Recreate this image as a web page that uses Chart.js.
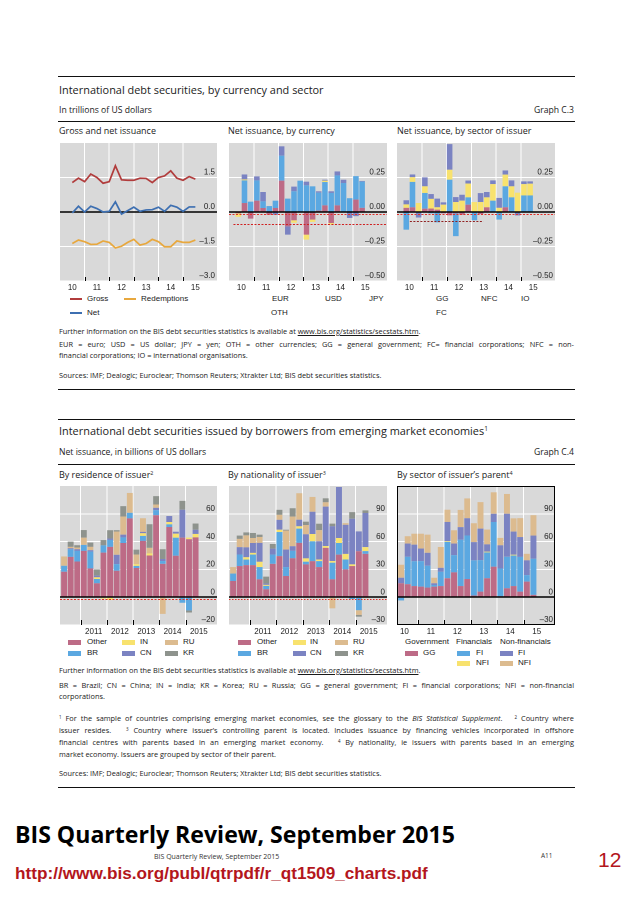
<!DOCTYPE html>
<html><head><meta charset="utf-8">
<script src="https://cdn.jsdelivr.net/npm/chart.js@4.4.1/dist/chart.umd.min.js"></script>
<style>
html,body{margin:0;padding:0;background:#fff}
body{width:638px;height:903px;position:relative;overflow:hidden;font-family:'Open Sans',sans-serif;color:#1a1a1a}
.t{position:absolute;white-space:nowrap;line-height:1}
.rule{position:absolute;left:58px;width:517px;height:1.3px;background:#111}
.lg{font-family:'Liberation Sans',Arial,sans-serif;font-size:8px;color:#222}
.sw{position:absolute;height:5px;width:13px}
.ln{position:absolute;height:2px;width:12px}
.j{text-align:justify;text-align-last:justify;width:515px}
sup{font-size:60%;line-height:0;vertical-align:0.55em}
</style></head><body>

<div class="rule" style="top:76px"></div>
<div class="t title" id="tt1" style="left:59px" data-cy="91">International debt securities, by currency and sector</div>
<div class="t sub" id="st1" style="left:59px" data-cy="111">In trillions of US dollars</div>
<div class="t sub" style="right:64px" data-cy="111">Graph C.3</div>
<div class="rule" style="top:121px"></div>
<div class="t pt" id="pt1" style="left:59px" data-cy="132">Gross and net issuance</div>
<div class="t pt" style="left:228px" data-cy="132">Net issuance, by currency</div>
<div class="t pt" style="left:397px" data-cy="132">Net issuance, by sector of issuer</div>

<div class="ln" style="left:70px;top:298px;background:#b13c3c"></div>
<div class="t lg" style="left:87px" data-cy="299">Gross</div>
<div class="ln" style="left:124px;top:298px;background:#e8a83e"></div>
<div class="t lg" style="left:141px" data-cy="299">Redemptions</div>
<div class="ln" style="left:70px;top:312px;background:#3d6fb1"></div>
<div class="t lg" style="left:87px" data-cy="313">Net</div>

<div class="t lg" style="left:272px" data-cy="299">EUR</div>
<div class="t lg" style="left:325px" data-cy="299">USD</div>
<div class="t lg" style="left:369px" data-cy="299">JPY</div>
<div class="t lg" style="left:271px" data-cy="313">OTH</div>
<div class="t lg" style="left:436px" data-cy="299">GG</div>
<div class="t lg" style="left:481px" data-cy="299">NFC</div>
<div class="t lg" style="left:521px" data-cy="299">IO</div>
<div class="t lg" style="left:436px" data-cy="313">FC</div>

<div class="t fn" id="fn1" style="left:59px" data-cy="332">Further information on the BIS debt securities statistics is available at <u>www.bis.org/statistics/secstats.htm</u>.</div>
<div class="t fn j" style="left:59px" data-cy="345">EUR = euro; USD = US dollar; JPY = yen; OTH = other currencies; GG = general government; FC= financial corporations; NFC = non-</div>
<div class="t fn" style="left:59px" data-cy="356">financial corporations; IO = international organisations.</div>
<div class="t fn" style="left:59px" data-cy="376">Sources: IMF; Dealogic; Euroclear; Thomson Reuters; Xtrakter Ltd; BIS debt securities statistics.</div>
<div class="rule" style="top:389px"></div>

<div class="rule" style="top:419px"></div>
<div class="t title" style="left:59px" data-cy="432">International debt securities issued by borrowers from emerging market economies<sup>1</sup></div>
<div class="t sub" style="left:59px" data-cy="453">Net issuance, in billions of US dollars</div>
<div class="t sub" style="right:64px" data-cy="453">Graph C.4</div>
<div class="rule" style="top:464px"></div>
<div class="t pt" style="left:59px" data-cy="476">By residence of issuer<sup>2</sup></div>
<div class="t pt" style="left:228px" data-cy="476">By nationality of issuer<sup>3</sup></div>
<div class="t pt" style="left:397px" data-cy="476">By sector of issuer’s parent<sup>4</sup></div>

<div class="sw" style="left:68px;top:640px;background:#bd6b86"></div><div class="t lg" style="left:87px" data-cy="642">Other</div>
<div class="sw" style="left:122px;top:640px;background:#f8e26e"></div><div class="t lg" style="left:140px" data-cy="642">IN</div>
<div class="sw" style="left:165px;top:640px;background:#dcbb8f"></div><div class="t lg" style="left:183px" data-cy="642">RU</div>
<div class="sw" style="left:68px;top:651px;background:#5ba8e1"></div><div class="t lg" style="left:87px" data-cy="653">BR</div>
<div class="sw" style="left:122px;top:651px;background:#7b83c2"></div><div class="t lg" style="left:140px" data-cy="653">CN</div>
<div class="sw" style="left:165px;top:651px;background:#8e938d"></div><div class="t lg" style="left:183px" data-cy="653">KR</div>

<div class="sw" style="left:238px;top:640px;background:#bd6b86"></div><div class="t lg" style="left:257px" data-cy="642">Other</div>
<div class="sw" style="left:293px;top:640px;background:#f8e26e"></div><div class="t lg" style="left:310px" data-cy="642">IN</div>
<div class="sw" style="left:335px;top:640px;background:#dcbb8f"></div><div class="t lg" style="left:353px" data-cy="642">RU</div>
<div class="sw" style="left:238px;top:651px;background:#5ba8e1"></div><div class="t lg" style="left:257px" data-cy="653">BR</div>
<div class="sw" style="left:293px;top:651px;background:#7b83c2"></div><div class="t lg" style="left:310px" data-cy="653">CN</div>
<div class="sw" style="left:335px;top:651px;background:#8e938d"></div><div class="t lg" style="left:353px" data-cy="653">KR</div>

<div class="t lg" style="left:405px" data-cy="642">Government</div>
<div class="t lg" style="left:456px" data-cy="642">Financials</div>
<div class="t lg" style="left:500px" data-cy="642">Non-financials</div>
<div class="sw" style="left:405px;top:651px;background:#bd6b86"></div><div class="t lg" style="left:423px" data-cy="653">GG</div>
<div class="sw" style="left:457px;top:651px;background:#5ba8e1"></div><div class="t lg" style="left:476px" data-cy="653">FI</div>
<div class="sw" style="left:500px;top:651px;background:#7b83c2"></div><div class="t lg" style="left:518px" data-cy="653">FI</div>
<div class="sw" style="left:457px;top:661px;background:#f8e26e"></div><div class="t lg" style="left:476px" data-cy="663">NFI</div>
<div class="sw" style="left:500px;top:661px;background:#dcbb8f"></div><div class="t lg" style="left:518px" data-cy="663">NFI</div>

<div class="t fn" style="left:59px" data-cy="671">Further information on the BIS debt securities statistics is available at <u>www.bis.org/statistics/secstats.htm</u>.</div>
<div class="t fn j" style="left:59px" data-cy="686">BR = Brazil; CN = China; IN = India; KR = Korea; RU = Russia; GG = general government; FI = financial corporations; NFI = non-financial</div>
<div class="t fn" style="left:59px" data-cy="697">corporations.</div>
<div class="t fn j" style="left:59px" data-cy="719"><sup>1</sup> For the sample of countries comprising emerging market economies, see the glossary to the <i>BIS Statistical Supplement</i>. &nbsp; <sup>2</sup> Country where</div>
<div class="t fn j" style="left:59px" data-cy="731">issuer resides. &nbsp; <sup>3</sup> Country where issuer’s controlling parent is located. Includes issuance by financing vehicles incorporated in offshore</div>
<div class="t fn j" style="left:59px" data-cy="743">financial centres with parents based in an emerging market economy. &nbsp; <sup>4</sup> By nationality, ie issuers with parents based in an emerging</div>
<div class="t fn" style="left:59px" data-cy="755">market economy. Issuers are grouped by sector of their parent.</div>
<div class="t fn" style="left:59px" data-cy="774">Sources: IMF; Dealogic; Euroclear; Thomson Reuters; Xtrakter Ltd; BIS debt securities statistics.</div>
<div class="rule" style="top:787px"></div>

<div class="t big" id="big" style="left:15px;font-weight:700;color:#000" data-cy="836">BIS Quarterly Review, September 2015</div>
<div class="t" style="left:154px;font-size:7px;color:#333" data-cy="857">BIS Quarterly Review, September 2015</div>
<div class="t" style="left:541px;font-size:6.5px;color:#333" data-cy="857">A11</div>
<div class="t url" id="url" style="left:15px;font-family:'Liberation Sans',Arial,sans-serif;font-weight:700;color:#b3161c" data-cy="875">http://www.bis.org/publ/qtrpdf/r_qt1509_charts.pdf</div>
<div class="t" style="left:598px;font-family:'Liberation Sans',Arial,sans-serif;font-size:21px;color:#b3161c" data-cy="861">12</div>

<script>
// ---------- data ----------
const quarters=['2010Q2','2010Q3','2010Q4','2011Q1','2011Q2','2011Q3','2011Q4','2012Q1','2012Q2','2012Q3','2012Q4','2013Q1','2013Q2','2013Q3','2013Q4','2014Q1','2014Q2','2014Q3','2014Q4','2015Q1','2015Q2'];

// Graph C.3 left: trillions USD
const gross=[1.28,1.47,1.32,1.65,1.50,1.25,1.32,2.01,1.40,1.38,1.38,1.47,1.46,1.28,1.50,1.57,1.79,1.47,1.38,1.54,1.43];
const net=[-0.04,0.25,0.00,0.25,0.15,0.00,0.03,0.44,-0.09,0.06,0.21,0.03,0.09,0.10,0.21,0.03,0.29,0.21,0.03,0.22,0.22];
const redemptions=[-1.37,-1.22,-1.29,-1.41,-1.40,-1.26,-1.32,-1.56,-1.49,-1.32,-1.19,-1.44,-1.37,-1.19,-1.29,-1.51,-1.51,-1.26,-1.32,-1.32,-1.22];

// Graph C.3 centre: by currency
const curEUR=[-0.010,0.065,-0.048,0.082,0.029,-0.020,0.029,0.227,-0.104,-0.060,0.000,-0.164,-0.055,0.010,0.048,-0.080,0.048,0.000,0.000,0.090,0.030];
const curUSD=[0.000,0.164,0.075,0.147,0.048,0.043,0.053,0.181,0.097,0.150,0.227,0.193,0.186,0.130,0.169,0.138,0.217,0.210,0.100,0.170,0.190];
const curJPY=[-0.025,0.007,0.000,0.000,0.000,0.000,0.000,0.000,0.000,-0.018,0.000,-0.036,-0.017,0.000,0.010,-0.012,0.000,0.000,0.000,0.000,0.000];
const curOTH=[0.000,0.036,0.000,0.029,0.068,0.000,-0.020,0.068,-0.060,0.034,0.000,0.027,0.000,0.010,0.007,0.012,0.029,0.024,-0.043,-0.030,0.005];

// Graph C.3 right: by sector
const secGG=[0.030,0.034,0.000,0.024,0.025,0.017,-0.010,-0.024,-0.010,-0.020,0.053,0.000,-0.015,0.034,0.000,0.000,0.034,0.000,0.000,0.000,0.000];
const secFC=[-0.128,0.184,0.000,0.114,-0.010,-0.075,0.000,0.234,-0.165,0.000,0.053,-0.060,0.000,0.000,0.082,-0.055,0.152,0.106,0.000,0.120,0.120];
const secNFC=[0.025,0.034,0.065,0.048,0.070,0.017,0.053,0.072,0.072,0.082,0.100,0.072,0.072,0.072,0.120,0.030,0.085,0.080,0.140,0.082,0.085];
const secIO=[0.030,0.020,-0.040,0.065,0.035,0.063,0.017,0.186,0.036,0.043,0.022,0.000,0.065,0.039,0.027,0.072,0.030,0.043,-0.025,0.020,0.017];

// Graph C.4 left: by residence (USD bn)
const resOther=[18.3,29.0,25.7,33.3,20.7,10.0,32.1,36.2,19.0,39.0,56.7,21.0,40.5,30.0,59.0,24.0,50.5,29.8,42.9,41.7,43.0];
const resBR=[4.3,5.5,7.6,4.3,12.1,3.1,5.2,5.0,4.8,4.0,4.0,1.5,3.6,0.0,3.6,2.0,1.9,13.0,-4.0,-9.5,0.0];
const resIN=[0,0,0,0,0,1.2,-1.0,-2.0,0,0,0,1.2,1.9,1.5,0,0,1.7,2.9,0,1.2,2.5];
const resCN=[0,0.7,1.2,0,1.0,1.2,0,1.0,6.7,2.0,0,0,1.0,0,1.7,1.5,4.3,1.4,20.0,0,3.0];
const resRU=[6.7,1.0,1.2,5.2,2.4,0,0,0,16.7,13.0,14.3,7.0,9.8,4.0,2.4,-12.0,0,0,0,0,0];
const resKR=[0,3.8,1.7,5.5,3.1,4.5,3.8,6.0,1.0,7.5,0,3.5,0,17.0,6.0,7.0,0,0,6.4,-1.5,4.5];

// Graph C.4 centre: by nationality
const natOther=[17.5,33.6,34.6,34.6,19.3,8.6,36.0,44.3,22.9,42.0,58.6,35.4,38.9,32.5,53.2,19.3,46.0,30.0,33.6,49.6,46.8];
const natBR=[8.0,12.5,6.0,11.4,13.2,3.6,10.0,26.0,9.6,8.0,15.4,2.9,21.4,6.4,0,17.9,12.5,10.7,-2.0,-14.0,2.9];
const natIN=[0,0,2.5,1.8,5.7,1.1,0,2.5,0,0,2.5,3.6,7.9,1.8,2.0,1.8,5.4,6.0,1.8,0,4.3];
const natCN=[0,7.9,10.7,10.7,20.4,1.4,6.4,10.7,18.9,5.0,7.1,26.0,24.0,19.6,42.6,37.5,55.0,31.4,49.3,21.4,36.8];
const natRU=[7.0,8.9,12.9,5.4,6.4,0,0,5.4,20.4,32.0,28.6,10.0,16.0,12.0,4.6,-12.0,0,1.8,0,-5.0,-1.0];
const natKR=[0,3.6,3.2,5.4,2.5,7.5,5.0,5.4,1.0,9.0,0,3.6,0,7.0,4.3,2.9,0,0,7.1,-2.0,2.9];

// Graph C.4 right: by sector of parent
const parGG=[15.0,14.0,12.0,11.4,10.4,11.4,12.0,20.4,26.8,12.0,19.6,1.8,6.0,20.4,32.9,1.0,9.6,12.0,6.0,16.8,2.5];
const parFinFI=[-3.5,29.6,26.8,27.5,23.6,1.8,15.4,39.3,18.6,50.0,47.0,38.0,34.0,27.9,48.2,30.0,34.0,33.0,37.5,7.0,39.0];
const parFinNFI=[0,0,0,0,0,0,0,0.8,0,0,0,0,0,0.8,0,0,0,0.8,0,0,0];
const parNonFI=[6.0,14.3,17.9,13.6,13.9,1.8,4.3,20.7,12.5,13.6,18.6,19.6,34.0,7.9,8.9,25.0,46.4,25.0,21.4,16.0,25.0];
const parNonNFI=[14.0,7.9,11.8,16.0,19.6,6.0,22.5,13.2,14.3,18.6,21.4,20.4,28.6,16.0,23.2,8.0,21.4,14.3,20.4,7.0,22.0];

// axes: ticks and labels
const yearBounds=[2011,2012,2013,2014,2015];
const yearCentres=[2010.5,2011.5,2012.5,2013.5,2014.5,2015.5];
const yearShort=['10','11','12','13','14','15'];
const yearCentresLong=[2011.5,2012.5,2013.5,2014.5,2015.5];
const yearLong=['2011','2012','2013','2014','2015'];
const yTicksGross=[-3,-1.5,0,1.5], yLabelsGross=['–3.0','–1.5','0.0','1.5'];
const yTicksNet=[-0.5,-0.25,0,0.25], yLabelsNet=['–0.50','–0.25','0.00','0.25'];
const yTicksRes=[-20,0,20,40,60], yLabelsRes=['–20','0','20','40','60'];
const yTicksNat=[-30,0,30,60,90], yLabelsNat=['–30','0','30','60','90'];

const C={mauve:'#bd6b86',blue:'#5ba8e1',yellow:'#f8e26e',purple:'#7b83c2',tan:'#dcbb8f',gray:'#8e938d'};

// ---------- text sizing ----------
function fitGroup(cls,refId,targetW){
  const ref=document.getElementById(refId);
  ref.style.fontSize='20px';
  const w=ref.getBoundingClientRect().width;
  const s=20*targetW/w;
  document.querySelectorAll('.'+cls).forEach(e=>e.style.fontSize=s+'px');
}
fitGroup('title','tt1',265);
fitGroup('sub','st1',93);
fitGroup('pt','pt1',97);
fitGroup('fn','fn1',362);
fitGroup('big','big',440);
fitGroup('url','url',413);
document.querySelectorAll('[data-cy]').forEach(e=>{
  const fs=parseFloat(getComputedStyle(e).fontSize);
  e.style.top=(parseFloat(e.dataset.cy)-0.56*fs)+'px';
});

// ---------- chart helpers ----------
const qMid=q=>+q.slice(0,4)+(+q[5]-0.5)/4;
const qEnd=q=>+q.slice(0,4)+(+q[5])/4;
const pts=(vals,pos)=>vals.map((v,i)=>({x:pos(quarters[i]),y:v}));
const bar=(label,vals,col)=>({type:'bar',label,data:pts(vals,qMid),backgroundColor:col,borderWidth:0,barPercentage:1,categoryPercentage:0.9});
const line=(label,vals,col)=>({type:'line',label,data:pts(vals,qEnd),borderColor:col,borderWidth:1.7,pointRadius:0,tension:0,fill:false});

function drawZero(ch){
  const c=ch.ctx,r=ch.chartArea,y=Math.round(ch.scales.y.getPixelForValue(0));
  c.save();c.strokeStyle='#000';c.lineWidth=1.4;c.beginPath();c.moveTo(r.left,y);c.lineTo(r.right,y);c.stroke();c.restore();
}
const deco={id:'deco',
  beforeDraw(ch){const c=ch.ctx,r=ch.chartArea;c.save();c.fillStyle='#d9d9d9';c.fillRect(r.left,r.top,r.right-r.left,r.bottom-r.top);c.restore();},
  beforeDatasetsDraw(ch,a,o){if(o.zeroUnder)drawZero(ch);},
  afterDatasetsDraw(ch,a,o){
    const c=ch.ctx,r=ch.chartArea,xs=ch.scales.x,ys=ch.scales.y;
    c.save();
    (o.refLines||[]).forEach(l=>{
      const py=Math.round(ys.getPixelForValue(l.v))+0.5;
      c.strokeStyle=l.color;c.lineWidth=1;c.setLineDash(l.dash);
      c.beginPath();c.moveTo(xs.getPixelForValue(l.x0??xs.min),py);c.lineTo(xs.getPixelForValue(l.x1??xs.max),py);c.stroke();
    });
    c.setLineDash([]);
    c.restore();
    if(!o.zeroUnder)drawZero(ch);
    c.save();c.strokeStyle='#000';c.lineWidth=1;
    yearBounds.forEach(v=>{const px=Math.round(xs.getPixelForValue(v))+0.5;c.beginPath();c.moveTo(px,r.bottom);c.lineTo(px,r.bottom-o.tickLen);c.stroke();});
    if(o.frame){c.strokeRect(r.left+0.5,r.top+0.5,r.right-r.left-1,r.bottom-r.top-1);}
    c.restore();
  }
};

function panel(left,top,w,plotH,datasets,cfg){
  const cv=document.createElement('canvas');
  cv.width=w;cv.height=plotH+14;
  cv.style.cssText=`position:absolute;left:${left}px;top:${top}px`;
  document.body.appendChild(cv);
  const xT=yearBounds.concat(cfg.labelPos).sort((a,b)=>a-b);
  new Chart(cv,{type:'bar',data:{datasets},plugins:[deco],options:{
    responsive:false,animation:false,devicePixelRatio:2,
    layout:{padding:0},
    plugins:{legend:{display:false},tooltip:{enabled:false},deco:cfg.deco},
    scales:{
      x:{type:'linear',min:cfg.xmin,max:cfg.xmax,stacked:true,offset:false,
        afterBuildTicks:s=>{s.ticks=xT.map(v=>({value:v}));},
        afterFit:s=>{s.paddingLeft=0;s.paddingRight=0;s.height=14;},
        ticks:{autoSkip:false,maxRotation:0,minRotation:0,padding:2,font:{family:'Liberation Sans',size:8},color:'#222',
          callback:v=>{const i=cfg.labelPos.indexOf(v);return i<0?'':cfg.labels[i];}},
        grid:{drawTicks:false,offset:false,lineWidth:1,color:c=>(c.tick&&yearBounds.includes(c.tick.value))?'#ffffff':'rgba(0,0,0,0)'},
        border:{display:false}},
      y:{type:'linear',position:'right',min:cfg.ymin,max:cfg.ymax,stacked:cfg.stacked,
        afterBuildTicks:s=>{s.ticks=cfg.yTicks.map(v=>({value:v}));},
        afterFit:s=>{s.width=0;s.paddingTop=0;s.paddingBottom=0;},
        ticks:{mirror:true,padding:-2,labelOffset:-5,font:{family:'Liberation Sans',size:8},color:'#222',
          callback:(v,i)=>cfg.yLabels[i]},
        grid:{drawTicks:false,color:'#ffffff',lineWidth:1},
        border:{display:false}}
    }}});
}

const topX={xmin:2010,xmax:2016.38,labelPos:yearCentres,labels:yearShort};
const botX={xmin:2010.22,xmax:2016.19,labelPos:yearCentresLong,labels:yearLong};

panel(60,143,157,138,[line('Gross',gross,'#b13c3c'),line('Redemptions',redemptions,'#e8a83e'),line('Net',net,'#3d6fb1')],
  {...topX,ymin:-3,ymax:3,yTicks:yTicksGross,yLabels:yLabelsGross,stacked:false,deco:{zeroUnder:true,tickLen:4}});
panel(229,143,158,138,[bar('EUR',curEUR,C.mauve),bar('USD',curUSD,C.blue),bar('JPY',curJPY,C.yellow),bar('OTH',curOTH,C.purple)],
  {...topX,ymin:-0.5,ymax:0.5,yTicks:yTicksNet,yLabels:yLabelsNet,stacked:true,deco:{tickLen:4,
    refLines:[{v:-0.015,color:'#e0302a',dash:[2,1.5]},{v:-0.087,x0:2010.18,color:'#d02020',dash:[2,1.5]}]}});
panel(397,143,158,138,[bar('GG',secGG,C.mauve),bar('FC',secFC,C.blue),bar('NFC',secNFC,C.yellow),bar('IO',secIO,C.purple)],
  {...topX,ymin:-0.5,ymax:0.5,yTicks:yTicksNet,yLabels:yLabelsNet,stacked:true,deco:{tickLen:4,
    refLines:[{v:-0.015,color:'#e0302a',dash:[2,1.5]},{v:-0.068,x0:2010.52,x1:2013.49,color:'#902020',dash:[2,1.5]}]}});
panel(60,486,157,139,[bar('Other',resOther,C.mauve),bar('BR',resBR,C.blue),bar('IN',resIN,C.yellow),bar('CN',resCN,C.purple),bar('RU',resRU,C.tan),bar('KR',resKR,C.gray)],
  {...botX,ymin:-20,ymax:80,yTicks:yTicksRes,yLabels:yLabelsRes,stacked:true,deco:{tickLen:5,
    refLines:[{v:-1,color:'#e0302a',dash:[2,1.5]}]}});
panel(229,486,158,139,[bar('Other',natOther,C.mauve),bar('BR',natBR,C.blue),bar('IN',natIN,C.yellow),bar('CN',natCN,C.purple),bar('RU',natRU,C.tan),bar('KR',natKR,C.gray)],
  {...botX,ymin:-30,ymax:120,yTicks:yTicksNat,yLabels:yLabelsNat,stacked:true,deco:{tickLen:5,
    refLines:[{v:-1.5,color:'#e0302a',dash:[1.5,1.5]}]}});
panel(397,486,158,139,[bar('GG',parGG,C.mauve),bar('Financials FI',parFinFI,C.blue),bar('Financials NFI',parFinNFI,C.yellow),bar('Non-financials FI',parNonFI,C.purple),bar('Non-financials NFI',parNonNFI,C.tan)],
  {xmin:2010.22,xmax:2016.19,labelPos:yearCentres,labels:yearShort,ymin:-30,ymax:120,yTicks:yTicksNat,yLabels:yLabelsNat,stacked:true,deco:{tickLen:5,frame:true}});
</script>
</body></html>
